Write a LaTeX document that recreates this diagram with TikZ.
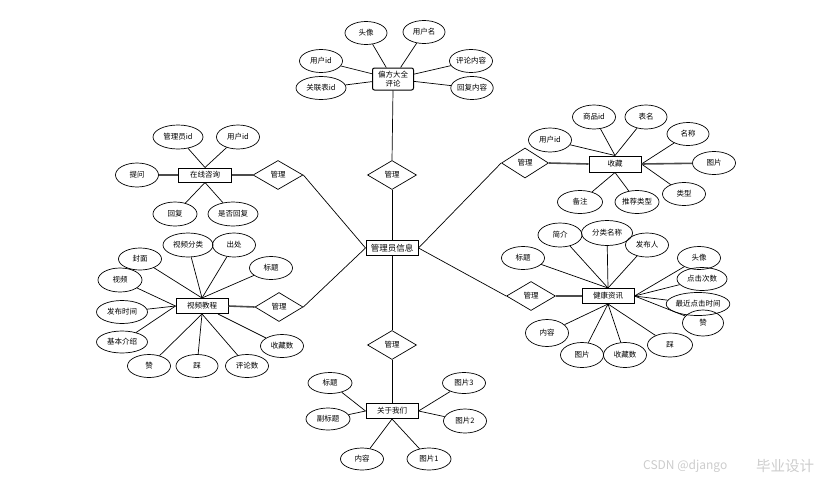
\documentclass[tikz,border=0pt]{standalone}
\usepackage{fontspec}
\newfontfamily\cjk{Noto Sans CJK SC}
\usetikzlibrary{shapes.geometric}
\tikzset{
  every node/.style={font=\cjk\fontsize{7.5}{8}\selectfont, text=black},
  attr/.style={ellipse, draw, line width=0.7pt, inner sep=0pt, minimum width=43pt, minimum height=23pt},
  ent/.style={rectangle, draw, line width=1pt, inner sep=0pt, minimum width=52pt, minimum height=15pt},
  rel/.style={diamond, draw, line width=0.7pt, inner sep=0pt, minimum width=49pt, minimum height=29pt},
  link/.style={draw, line width=0.7pt},
  tlink/.style={draw, line width=1.6pt, gray!60!black},
  wm/.style={anchor=west, text=gray!40, inner sep=0pt},
}
\begin{document}
\begin{tikzpicture}[x=1pt,y=-1pt]
\useasboundingbox (0,0) rectangle (829,485);
% center
\node[ent, font=\cjk\fontsize{8.5}{9}\selectfont] (admin) at (392,248) {管理员信息};

% top: comments
\node[ent, rounded corners=2pt, minimum width=41pt, minimum height=22pt, align=center, font=\cjk\fontsize{7.5}{8.5}\selectfont] (cmt) at (393,79) {偏方大全\\评论};
\node[rel] (rtop) at (392,175) {管理};
\node[attr, minimum width=42pt] (c1) at (366,33) {头像};
\node[attr, minimum width=42pt] (c2) at (424,32) {用户名};
\node[attr] (c3) at (321,61) {用户id};
\node[attr, minimum width=50pt] (c4) at (321,88) {关联表id};
\node[attr] (c5) at (471,61) {评论内容};
\node[attr, minimum width=42pt] (c6) at (472,88) {回复内容};
\foreach \a in {c1,c2,c3,c4,c5,c6} \draw[link] (\a) -- (cmt);
\draw[link] (cmt.south) -- (rtop.north);
\draw[link] (rtop.south) -- (admin.north);

% left top: online consult
\node[ent, minimum width=53pt, minimum height=14pt] (zx) at (205,175) {在线咨询};
\node[rel, minimum width=50pt] (rzx) at (278,175) {管理};
\node[attr, minimum width=50pt, minimum height=24pt] (z1) at (178,137) {管理员id};
\node[attr, minimum height=24pt] (z2) at (238,137) {用户id};
\node[attr, minimum height=24pt] (z3) at (137,175) {提问};
\node[attr, minimum width=44pt, minimum height=24pt] (z4) at (175,214) {回复};
\node[attr, minimum width=50pt, minimum height=24pt] (z5) at (233,214) {是否回复};
\draw[link] (z1) -- (zx.north);
\draw[link] (z2) -- (zx.north);
\draw[tlink] (z3) -- (zx.west);
\draw[link] (z4) -- (zx.south);
\draw[link] (z5) -- (zx.south);
\draw[tlink] (zx.east) -- (rzx.west);
\draw[link] (rzx.east) -- (admin.west);

% left bottom: video tutorial
\node[ent] (sp) at (202,306) {视频教程};
\node[rel, minimum width=48pt] (rsp) at (279,307) {管理};
\node[attr, minimum height=22pt] (s1) at (140,259) {封面};
\node[attr, minimum width=50pt, minimum height=24pt] (s2) at (188,245) {视频分类};
\node[attr, minimum height=24pt] (s3) at (234,245) {出处};
\node[attr] (s4) at (271,268) {标题};
\node[attr, minimum width=44pt, minimum height=24pt] (s5) at (120,280) {视频};
\node[attr, minimum width=51pt] (s6) at (122,312) {发布时间};
\node[attr, minimum width=51pt, minimum height=22pt] (s7) at (122,342) {基本介绍};
\node[attr] (s8) at (149,366) {赞};
\node[attr, minimum width=42pt] (s9) at (197,366) {踩};
\node[attr] (s10) at (247,366) {评论数};
\node[attr] (s11) at (282,346) {收藏数};
\foreach \a in {s1,s2,s3,s4} \draw[link] (\a) -- (sp.north);
\foreach \a in {s5,s6,s7} \draw[link] (\a) -- (sp.west);
\foreach \a in {s8,s9,s10} \draw[link] (\a) -- (sp.south);
\draw[link] (s11) -- (sp);
\draw[tlink] (sp.east) -- (rsp.west);
\draw[link] (rsp.east) -- (admin.west);

% right top: favourites
\node[ent, minimum height=16pt] (sc) at (615,164) {收藏};
\node[rel, minimum width=47pt, minimum height=30pt] (rsc) at (525,163) {管理};
\node[attr, minimum height=24pt] (f1) at (550,140) {用户id};
\node[attr, minimum height=24pt] (f2) at (594,117) {商品id};
\node[attr, minimum width=42pt, minimum height=24pt] (f3) at (646,117) {表名};
\node[attr, minimum width=42pt] (f4) at (688,134) {名称};
\node[attr] (f5) at (714,163) {图片};
\node[attr] (f6) at (684,194) {类型};
\node[attr, minimum width=44pt] (f7) at (637,202) {推荐类型};
\node[attr, minimum width=45pt] (f8) at (580,202) {备注};
\foreach \a in {f1,f2,f3} \draw[link] (\a) -- (sc.north);
\foreach \a in {f4,f6} \draw[link] (\a) -- (sc.east);
\draw[tlink] (f5) -- (sc.east);
\foreach \a in {f7,f8} \draw[link] (\a) -- (sc.south);
\draw[tlink] (rsc.east) -- (sc.west);
\draw[link] (rsc.west) -- (admin.east);

% right bottom: health news
\node[ent] (jk) at (608,296) {健康资讯};
\node[rel] (rjk) at (531,296) {管理};
\node[attr] (h1) at (523,258) {标题};
\node[attr, minimum width=44pt, minimum height=24pt] (h2) at (560,235) {简介};
\node[attr, minimum width=51pt, minimum height=25pt] (h3) at (607,233) {分类名称};
\node[attr, minimum height=24pt] (h4) at (647,245) {发布人};
\node[attr] (h5) at (699,258) {头像};
\node[attr, minimum width=50pt] (h6) at (702,279) {点击次数};
\node[attr, minimum width=58pt] (h7) at (698,304) {最近点击时间};
\node[attr, minimum width=41pt, minimum height=26pt] (h8) at (703,323) {赞};
\node[attr, minimum width=45pt, minimum height=24pt] (h9) at (670,345) {踩};
\node[attr, minimum height=25pt] (h10) at (625,355) {收藏数};
\node[attr, minimum height=25pt] (h11) at (582,355) {图片};
\node[attr, minimum height=27pt] (h12) at (547,333) {内容};
\foreach \a in {h1,h2,h3,h4} \draw[link] (\a) -- (jk.north);
\foreach \a in {h5,h6,h7,h8} \draw[link] (\a) -- (jk.east);
\foreach \a in {h9,h10,h11,h12} \draw[link] (\a) -- (jk.south);
\draw[tlink] (rjk.east) -- (jk.west);
\draw[link] (rjk.west) -- (admin.east);

% bottom: about us
\node[ent] (gy) at (392,411) {关于我们};
\node[rel] (rgy) at (392,345) {管理};
\node[attr, minimum width=44pt, minimum height=21pt] (g1) at (330,383) {标题};
\node[attr, minimum width=44pt, minimum height=22pt] (g2) at (328,419) {副标题};
\node[attr, minimum height=22pt] (g3) at (362,459) {内容};
\node[attr, minimum width=44pt, minimum height=22pt] (g4) at (429,459) {图片1};
\node[attr, minimum height=21pt] (g5) at (464,383) {图片3};
\node[attr, minimum height=24pt] (g6) at (465,421) {图片2};
\foreach \a in {g1,g2} \draw[link] (\a) -- (gy.west);
\foreach \a in {g3,g4} \draw[link] (\a) -- (gy.south);
\foreach \a in {g5,g6} \draw[link] (\a) -- (gy.east);
\draw[link] (admin.south) -- (rgy.north);
\draw[link] (rgy.south) -- (gy.north);

% watermark
\node[wm, font=\cjk\fontsize{12}{13}\selectfont] (wm1) at (643,466) {CSDN @django};
\node[wm, font=\cjk\fontsize{14.5}{15}\selectfont] (wm2) at (756,466) {毕业设计};
\end{tikzpicture}
\end{document}
